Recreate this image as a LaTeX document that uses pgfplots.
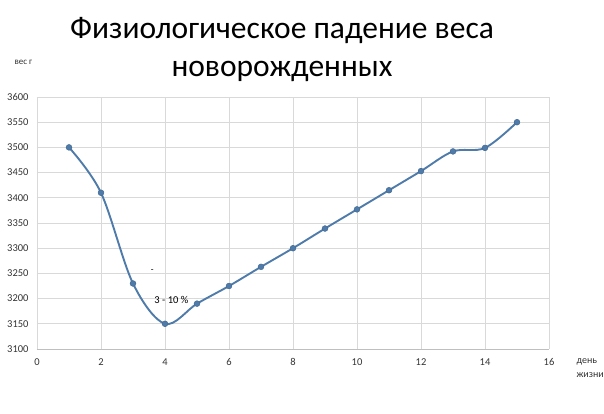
\documentclass[border=0pt]{standalone}
\usepackage{fontspec}
\setmainfont{Carlito}
\usepackage{pgfplots}
\pgfplotsset{compat=1.18}
\definecolor{serie}{HTML}{4F7BAA}
\definecolor{gridc}{HTML}{D9D9D9}
\definecolor{axisc}{HTML}{BFBFBF}
\definecolor{labc}{HTML}{333333}
\begin{document}
\begin{tikzpicture}
    \useasboundingbox (-37pt,-65pt) rectangle (567pt,349pt);
    \begin{axis}[
            at={(0pt,0pt)}, anchor=south west,
            scale only axis,
            width=512pt, height=252pt,
            xmin=0, xmax=16, ymin=3100, ymax=3600,
            xtick={0,2,...,16}, ytick={3100,3150,...,3600},
            /pgf/number format/assume math mode=true,
            /pgf/number format/1000 sep={},
            ticklabel style={font=\fontsize{10.5}{12}\selectfont, text=labc},
            xticklabel style={yshift=-6pt},
            yticklabel style={xshift=-5pt},
            major tick length=0pt,
            xmajorgrids, ymajorgrids,
            grid style={gridc, line width=0.7pt},
            axis line style={draw=none},
            axis x line*=bottom, axis y line*=left,
            clip=false,
        ]
        \draw[axisc, line width=0.8pt] (rel axis cs:0,0) -- (rel axis cs:1,0);

        \addplot[serie, line width=1.9pt, smooth, tension=0.55,
            mark=*, mark size=2.9pt, mark options={fill=serie, draw=serie!85!black, line width=0.5pt}]
            coordinates {
                (1,3500) (2,3410) (3,3230) (4,3150) (5,3190)
                (6,3225) (7,3263) (8,3300) (9,3339) (10,3377)
                (11,3415) (12,3453) (13,3492) (14,3499) (15,3550)
            };

        \node[font=\fontsize{10.5}{12}\selectfont, text=black] at (axis cs:4.2,3197) {3 - 10 \%};
        \node[font=\fontsize{9}{11}\selectfont, text=black] at (axis cs:3.6,3255) {-};
    \end{axis}
    \node[font=\fontsize{31.5}{36}\selectfont] at (245pt,318pt) {Физиологическое падение веса};
    \node[font=\fontsize{31.5}{36}\selectfont] at (245pt,278pt) {новорожденных};
    \node[font=\fontsize{9}{10}\selectfont, text=labc, anchor=west] at (-26pt,287pt) {вес г};
    \node[font=\fontsize{10}{14}\selectfont, text=labc, anchor=north west, align=left] at (536pt,-6pt) {день\\жизни};
\end{tikzpicture}
\end{document}
